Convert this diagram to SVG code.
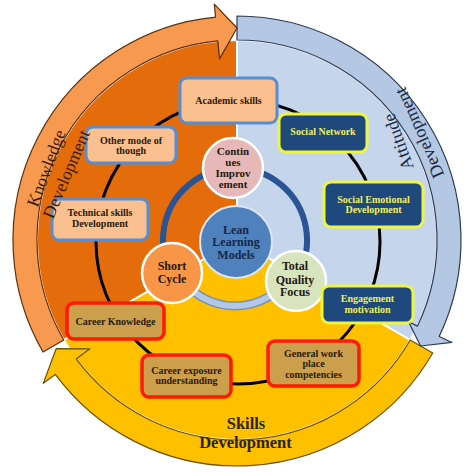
<svg xmlns="http://www.w3.org/2000/svg" width="474" height="474" viewBox="0 0 474 474">
<defs>
<style>
.t{font-family:"Liberation Serif","Times New Roman",serif;font-weight:bold;text-anchor:middle}
.bt{font-size:10px;fill:#2b1b0b}
.ct{font-size:12px;fill:#1f1a10}
.pk{fill:#fac090;stroke:#558ed5;stroke-width:3}
.cr{fill:#cc9f4c;stroke:#ff1a00;stroke-width:3.5}
.nv{fill:#1f497d;stroke:#eef53a;stroke-width:3}
.yt{font-size:10px;fill:#eef05a}
.arc{font-family:"Liberation Serif","Times New Roman",serif;text-anchor:middle}
</style>
</defs>
<rect width="474" height="474" fill="#ffffff"/>
<g id="sectors" stroke="#ffffff" stroke-width="2">
<path d="M237,240 L63.79,340 A200,200 0 0 1 237,40 Z" fill="#e46c0a"/>
<path d="M237,240 L237,40 A200,200 0 0 1 410.21,340 Z" fill="#c5d6ec"/>
<path d="M237,240 L410.21,340 A200,200 0 0 1 63.79,340 Z" fill="#ffc000"/>
</g>
<g id="bands" stroke-width="1.2" stroke-linejoin="round">
<path id="skills-arrow" d="M432.72,353 A226,226 0 0 1 55.33,374.43 L43.27,383.35 L56.14,348.67 L89.89,348.85 L76.23,358.96 A200,200 0 0 0 410.21,340 Z" fill="#ffc000" stroke="#6b5200"/>
<path id="attitude-arrow" d="M237,16 A224,224 0 0 1 439.18,336.43 L451.82,342.46 L420.6,346 L408.49,321.8 L417.52,326.1 A200,200 0 0 0 237,40 Z" fill="#b4c7e3" stroke="#2b3a55"/>
<path id="knowledge-arrow" d="M43,352 A224,224 0 0 1 215.53,17.03 L214.28,4.09 L237,28 L219.56,58.84 L217.83,40.92 A200,200 0 0 0 63.79,340 Z" fill="#f79a50" stroke="#5a3010"/>
</g>
<g id="connectors" fill="none">
<circle cx="238" cy="242" r="142" stroke="#000000" stroke-width="3"/>
<path d="M172.65,276 A72,72 0 1 1 297.35,276" stroke="#2a5494" stroke-width="6"/>
<path d="M292.16,273 A66,66 0 0 1 177.84,273" stroke="#7390bd" stroke-width="9"/>
<path d="M292.16,273 A66,66 0 0 1 177.84,273" stroke="#b2c8e6" stroke-width="6"/>
</g>
<g id="lean-learning-models">
<circle cx="236" cy="242" r="36" fill="#4f81bd" stroke="#dce6f2" stroke-width="2"/>
<text class="t ct" style="fill:#14284a"><tspan x="236" y="233.5">Lean</tspan><tspan x="236" y="246">Learning</tspan><tspan x="236" y="258.5">Models</tspan></text>
</g>
<g id="continues-improvement">
<circle cx="233" cy="168" r="30" fill="#e6b9b8" stroke="#ffffff" stroke-width="2.5"/>
<text class="t" style="font-size:11px;fill:#1f1a10"><tspan x="233" y="154.5">Contin</tspan><tspan x="233" y="165.5">ues</tspan><tspan x="233" y="176.5">Improv</tspan><tspan x="233" y="187.5">ement</tspan></text>
</g>
<g id="short-cycle">
<circle cx="172" cy="273" r="30" fill="#f79646" stroke="#ffffff" stroke-width="2.5"/>
<text class="t ct"><tspan x="172" y="270">Short</tspan><tspan x="172" y="282.5">Cycle</tspan></text>
</g>
<g id="total-quality-focus">
<circle cx="296" cy="281" r="30" fill="#d7e4bd" stroke="#ffffff" stroke-width="2.5"/>
<text class="t ct"><tspan x="295" y="270.3">Total</tspan><tspan x="295" y="283.5">Quality</tspan><tspan x="295" y="296">Focus</tspan></text>
</g>
<g id="academic-skills">
<rect class="pk" x="180" y="78" width="97" height="45" rx="7"/>
<text class="t bt" x="228.5" y="104">Academic skills</text>
</g>
<g id="other-mode">
<rect class="pk" x="86" y="127" width="90" height="36" rx="7"/>
<text class="t bt"><tspan x="131" y="143.5">Other mode of</tspan><tspan x="131" y="154">though</tspan></text>
</g>
<g id="technical-skills">
<rect class="pk" x="52" y="199" width="96" height="41" rx="7"/>
<text class="t bt"><tspan x="100" y="216">Technical skills</tspan><tspan x="100" y="226.5">Development</tspan></text>
</g>
<g id="career-knowledge">
<rect class="cr" x="67" y="303" width="97" height="36" rx="7"/>
<text class="t bt" x="115.5" y="324.5">Career Knowledge</text>
</g>
<g id="career-exposure">
<rect class="cr" x="142" y="355" width="89" height="42" rx="7"/>
<text class="t bt"><tspan x="186.5" y="373.5">Career exposure</tspan><tspan x="186.5" y="384">understanding</tspan></text>
</g>
<g id="general-work">
<rect class="cr" x="268" y="341" width="91" height="45" rx="7"/>
<text class="t bt"><tspan x="313.5" y="356.5">General work</tspan><tspan x="313.5" y="367">place</tspan><tspan x="313.5" y="377.5">competencies</tspan></text>
</g>
<g id="engagement-motivation">
<rect class="nv" x="322" y="286" width="91" height="37" rx="7"/>
<text class="t yt"><tspan x="367.5" y="301.5">Engagement</tspan><tspan x="367.5" y="312.5">motivation</tspan></text>
</g>
<g id="social-emotional">
<rect class="nv" x="324" y="182" width="99" height="45" rx="7"/>
<text class="t yt"><tspan x="373.5" y="202.5">Social Emotional</tspan><tspan x="373.5" y="213">Development</tspan></text>
</g>
<g id="social-network">
<rect class="nv" x="279" y="114" width="88" height="38" rx="7"/>
<text class="t yt" x="323" y="134.5">Social Network</text>
</g>
<g id="labels">
<text class="arc" transform="translate(46,168) rotate(-69.5)" dy="0.35em" style="font-size:17.5px;fill:#3a1c08">Knowledge</text>
<text class="arc" transform="translate(66,174) rotate(-66.7)" dy="0.35em" style="font-size:17.5px;fill:#3a1c08">Development</text>
<text class="arc" transform="translate(398,142) rotate(-110)" dy="0.35em" style="font-size:18px;fill:#1c2a44">Attitude</text>
<text class="arc" transform="translate(419,133) rotate(-114)" dy="0.35em" style="font-size:18px;fill:#1c2a44">Development</text>
<text class="t" x="246" y="429" style="font-size:16.5px;fill:#2a2400">Skills</text>
<text class="t" x="245.5" y="447.5" style="font-size:16.5px;fill:#2a2400">Development</text>
</g>
</svg>
